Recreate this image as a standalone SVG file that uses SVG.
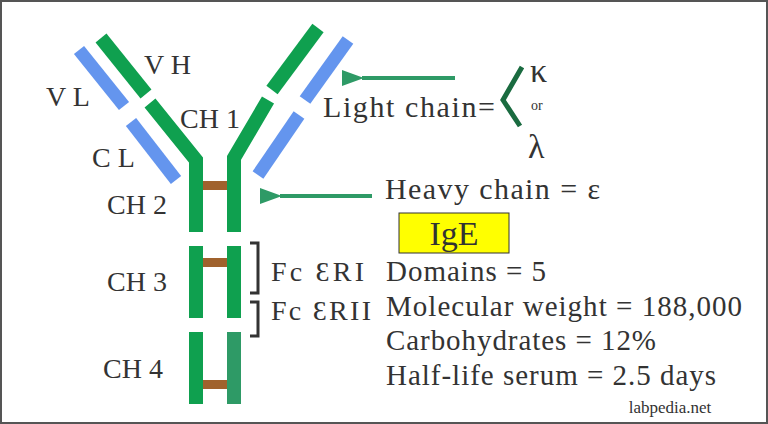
<svg xmlns="http://www.w3.org/2000/svg" width="768" height="424" viewBox="0 0 768 424">
<style>
.h{stroke:#0fa04f;stroke-width:14;fill:none}
.l{stroke:#6495ee;stroke-width:13;fill:none}
.s{fill:#a0622d}
.t{font-family:"Liberation Serif",serif;fill:#333;font-size:28px}
</style>
<defs><marker id="a" markerWidth="22" markerHeight="16" refX="2" refY="8" orient="auto" markerUnits="userSpaceOnUse" viewBox="0 0 22 16"><path d="M22,0L0,8L22,16z" fill="#2e9a66"/></marker></defs>
<rect x="1" y="1" width="766" height="422" fill="#fff" stroke="#555" stroke-width="2"/>
<g id="heavy-left">
<path class="h" d="M101,38L146,94"/>
<path class="h" d="M150,103L196,160V232"/>
<path class="h" d="M196,246V318"/>
<path class="h" d="M196,332V404"/>
</g>
<g id="heavy-right">
<path class="h" d="M318,28L272,90"/>
<path class="h" d="M268,100L234,158V232"/>
<path class="h" d="M234,246V318"/>
<path class="h" d="M234,332V404" style="stroke:#2e9a66"/>
</g>
<g id="light-left">
<path class="l" d="M79,50L124,106"/>
<path class="l" d="M131,122L176,180"/>
</g>
<g id="light-right">
<path class="l" d="M348,40L305,100"/>
<path class="l" d="M299,115L258,175"/>
</g>
<g id="bonds">
<rect class="s" x="203" y="181" width="24" height="9"/>
<rect class="s" x="203" y="258" width="24" height="9"/>
<rect class="s" x="203" y="380" width="24" height="9"/>
</g>
<g id="connectors" stroke="#2e9a66" stroke-width="4" fill="none">
<path d="M455,78H362" marker-end="url(#a)"/>
<path d="M372,196H280" marker-end="url(#a)"/>
<path d="M250,243H258V293H250M250,302H258V336H250" stroke="#333" stroke-width="3"/>
<path d="M522,67L503,100L520,126" stroke="#1a6b40" stroke-width="5"/>
</g>
<g id="labels">
<text class="t" x="46" y="106">V L</text>
<text class="t" x="144" y="74">V H</text>
<text class="t" x="180" y="128">CH 1</text>
<text class="t" x="92" y="167">C L</text>
<text class="t" x="107" y="214">CH 2</text>
<text class="t" x="107" y="291">CH 3</text>
<text class="t" x="103" y="378">CH 4</text>
<text class="t" x="271" y="281" textLength="93">Fc ƐRI</text>
<text class="t" x="271" y="320" textLength="100">Fc ƐRII</text>
<text class="t" x="323" y="117" textLength="172" style="font-size:30px">Light chain=</text>
<text class="t" x="530" y="82" style="font-size:34px">κ</text>
<text class="t" x="531" y="110" style="font-size:14px">or</text>
<text class="t" x="528" y="158" style="font-size:34px">λ</text>
<text class="t" x="385" y="199" textLength="215" style="font-size:30px">Heavy chain = ε</text>
</g>
<g id="ige">
<rect x="399" y="213" width="110" height="40" fill="#ffff00" stroke="#333"/>
<text class="t" x="454" y="245" text-anchor="middle" style="font-size:34px">IgE</text>
</g>
<g id="info" style="font-size:29px">
<text class="t" x="386" y="281" textLength="160" style="font-size:29px">Domains = 5</text>
<text class="t" x="386" y="316" textLength="356" style="font-size:29px">Molecular weight = 188,000</text>
<text class="t" x="386" y="350" textLength="270" style="font-size:29px">Carbohydrates = 12%</text>
<text class="t" x="386" y="385" textLength="330" style="font-size:29px">Half-life serum = 2.5 days</text>
<text x="670" y="413" font-family="Liberation Serif,serif" font-size="17" fill="#333" text-anchor="middle">labpedia.net</text>
</g>
</svg>
